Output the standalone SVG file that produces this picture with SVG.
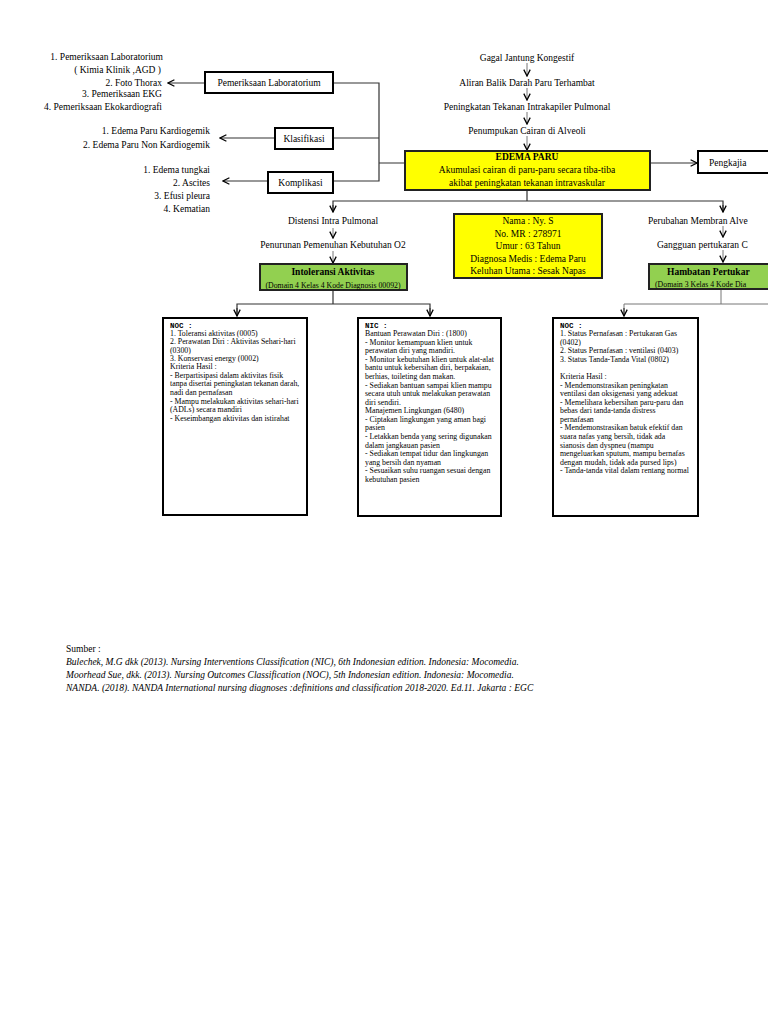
<svg xmlns="http://www.w3.org/2000/svg" width="768" height="1024" viewBox="0 0 768 1024">
<style>
text{font-family:"Liberation Serif","Times New Roman",serif;fill:#000}
.t{font-size:9.5px}
.e{text-anchor:end}
.m{text-anchor:middle}
.s{font-size:7.8px}
.mono{font-family:"Liberation Mono","Courier New",monospace;font-size:7.5px;font-weight:bold}
.b{font-weight:bold}
.i{font-style:italic;font-size:9.5px}
.box{fill:#fff;stroke:#000;stroke-width:2}
.yel{fill:#ffff00;stroke:#222;stroke-width:2}
.grn{fill:#92d050;stroke:#222;stroke-width:2}
.ln{fill:none;stroke:#333;stroke-width:1.2}
.lt{fill:none;stroke:#777;stroke-width:1}
</style>
<defs>
<marker id="arr" viewBox="0 0 10 10" refX="9" refY="5" markerWidth="8" markerHeight="8" markerUnits="userSpaceOnUse" orient="auto">
<path d="M1,1 L9,5 L1,9" fill="none" stroke="#000" stroke-width="1.6"/>
</marker>
</defs>
<rect width="768" height="1024" fill="#fff"/>

<g id="connectors">
<line class="lt" x1="527" y1="63" x2="527" y2="76" marker-end="url(#arr)"/>
<line class="lt" x1="527" y1="88" x2="527" y2="100" marker-end="url(#arr)"/>
<line class="lt" x1="527" y1="112" x2="527" y2="124" marker-end="url(#arr)"/>
<line class="lt" x1="527" y1="136" x2="527" y2="150" marker-end="url(#arr)"/>
<line class="ln" x1="650" y1="163" x2="697" y2="163" marker-end="url(#arr)"/>
<path class="ln" d="M405,163 H379 M333,83 H379 V181 H333 M333,138 H379"/>
<line class="ln" x1="205" y1="83" x2="168" y2="83" marker-end="url(#arr)"/>
<line class="ln" x1="275" y1="138" x2="220" y2="138" marker-end="url(#arr)"/>
<line class="ln" x1="268" y1="181" x2="223" y2="181" marker-end="url(#arr)"/>
<path class="ln" d="M527,190 V201 M333,212 V201 H723 V212"/>
<line class="ln" x1="333" y1="205" x2="333" y2="212" marker-end="url(#arr)"/>
<line class="ln" x1="723" y1="205" x2="723" y2="212" marker-end="url(#arr)"/>
<line class="lt" x1="333" y1="228" x2="333" y2="238" marker-end="url(#arr)"/>
<line class="lt" x1="333" y1="251" x2="333" y2="263" marker-end="url(#arr)"/>
<line class="lt" x1="723" y1="226" x2="723" y2="237" marker-end="url(#arr)"/>
<line class="lt" x1="723" y1="250" x2="723" y2="262" marker-end="url(#arr)"/>
<path class="ln" d="M333,290 V304 M237,316 V304 H430 V316"/>
<line class="ln" x1="237" y1="308" x2="237" y2="316" marker-end="url(#arr)"/>
<line class="ln" x1="430" y1="308" x2="430" y2="316" marker-end="url(#arr)"/>
<path class="lt" d="M721,289 V304 M624,316 V304 H768"/>
<line class="ln" x1="624" y1="308" x2="624" y2="316" marker-end="url(#arr)"/>
</g>

<g id="pemeriksaan-list">
<text class="t e" x="163" y="60">1. Pemeriksaan Laboratorium</text>
<text class="t e" x="161" y="73">( Kimia Klinik ,AGD )</text>
<text class="t e" x="162" y="86">2. Foto Thorax</text>
<text class="t e" x="162" y="97">3. Pemeriksaan EKG</text>
<text class="t e" x="162" y="110">4. Pemeriksaan Ekokardiografi</text>
</g>
<g id="pemeriksaan">
<rect class="box" x="205" y="72" width="128" height="21"/>
<text class="t m" x="269" y="86">Pemeriksaan Laboratorium</text>
</g>
<g id="klasifikasi-list">
<text class="t e" x="210" y="134">1. Edema Paru Kardiogemik</text>
<text class="t e" x="210" y="148">2. Edema Paru Non Kardiogemik</text>
</g>
<g id="klasifikasi">
<rect class="box" x="275" y="128" width="58" height="21"/>
<text class="t m" x="304" y="141.5">Klasifikasi</text>
</g>
<g id="komplikasi-list">
<text class="t e" x="210" y="172.5">1. Edema tungkai</text>
<text class="t e" x="210" y="186">2. Ascites</text>
<text class="t e" x="210" y="198.5">3. Efusi pleura</text>
<text class="t e" x="210" y="211.5">4. Kematian</text>
</g>
<g id="komplikasi">
<rect class="box" x="268" y="172" width="65" height="21"/>
<text class="t m" x="300.5" y="185.5">Komplikasi</text>
</g>

<g id="chain">
<text class="t m" x="527" y="60.5">Gagal Jantung Kongestif</text>
<text class="t m" x="527" y="86">Aliran Balik Darah Paru Terhambat</text>
<text class="t m" x="527" y="110">Peningkatan Tekanan Intrakapiler Pulmonal</text>
<text class="t m" x="527" y="134">Penumpukan Cairan di Alveoli</text>
</g>

<g id="edema-paru">
<rect class="yel" x="405" y="151" width="245" height="39"/>
<text class="t m b" x="527" y="160">EDEMA PARU</text>
<text class="t m" x="527" y="173">Akumulasi cairan di paru-paru secara tiba-tiba</text>
<text class="t m" x="527" y="186">akibat peningkatan tekanan intravaskular</text>
</g>

<g id="pengkajian">
<rect class="box" x="698" y="151" width="90" height="22"/>
<text class="t" x="709" y="166">Pengkajia</text>
</g>

<g id="left-branch">
<text class="t m" x="333" y="224">Distensi Intra Pulmonal</text>
<text class="t m" x="333" y="248">Penurunan Pemenuhan Kebutuhan O2</text>
</g>

<g id="intoleransi">
<rect class="grn" x="260" y="264" width="147" height="26"/>
<text class="m b" style="font-size:9.5px" x="333" y="275">Intoleransi Aktivitas</text>
<text class="m" style="font-size:7.8px" x="333" y="287.5">(Domain 4 Kelas 4 Kode Diagnosis 00092)</text>
</g>

<g id="identitas">
<rect class="yel" x="454" y="214" width="148" height="64"/>
<text class="t m" x="528" y="224">Nama : Ny. S</text>
<text class="t m" x="528" y="236.5">No. MR : 278971</text>
<text class="t m" x="528" y="249">Umur : 63 Tahun</text>
<text class="t m" x="528" y="261.5">Diagnosa Medis : Edema Paru</text>
<text class="t m" x="528" y="274">Keluhan Utama : Sesak Napas</text>
</g>

<g id="right-branch">
<text class="t" x="648" y="223.5">Perubahan Membran Alve</text>
<text class="t" x="657" y="247.5">Gangguan pertukaran C</text>
</g>

<g id="hambatan">
<rect class="grn" x="649" y="264" width="140" height="25"/>
<text class="b" style="font-size:9.5px" x="667" y="275">Hambatan Pertukar</text>
<text style="font-size:7.8px" x="655" y="287">(Domain 3 Kelas 4 Kode Dia</text>
</g>

<g id="noc-intoleransi">
<rect class="box" x="163" y="318" width="144" height="197"/>
<text class="mono" x="170" y="327.5">NOC :</text>
<text class="s" x="170" y="336">1. Toleransi aktivitas (0005)</text>
<text class="s" x="170" y="344">2. Perawatan Diri : Aktivitas Sehari-hari</text>
<text class="s" x="170" y="352.5">(0300)</text>
<text class="s" x="170" y="361">3. Konservasi energy (0002)</text>
<text class="s" x="170" y="369">Kriteria Hasil :</text>
<text class="s" x="170" y="377.5">- Berpartisipasi dalam aktivitas fisik</text>
<text class="s" x="170" y="386">tanpa disertai peningkatan tekanan darah,</text>
<text class="s" x="170" y="394.5">nadi dan pernafasan</text>
<text class="s" x="170" y="403.5">- Mampu melakukan aktivitas sehari-hari</text>
<text class="s" x="170" y="412">(ADLs) secara mandiri</text>
<text class="s" x="170" y="420.5">- Keseimbangan aktivitas dan istirahat</text>
</g>

<g id="nic-intoleransi">
<rect class="box" x="358" y="318" width="143" height="198"/>
<text class="mono" x="365" y="327.5">NIC :</text>
<text class="s" x="365" y="336">Bantuan Perawatan Diri : (1800)</text>
<text class="s" x="365" y="344.5">- Monitor kemampuan klien untuk</text>
<text class="s" x="365" y="353">perawatan diri yang mandiri.</text>
<text class="s" x="365" y="361.5">- Monitor kebutuhan klien untuk alat-alat</text>
<text class="s" x="365" y="370">bantu untuk kebersihan diri, berpakaian,</text>
<text class="s" x="365" y="378.5">berhias, toileting dan makan.</text>
<text class="s" x="365" y="387.5">- Sediakan bantuan sampai klien mampu</text>
<text class="s" x="365" y="396">secara utuh untuk melakukan perawatan</text>
<text class="s" x="365" y="404.5">diri sendiri.</text>
<text class="s" x="365" y="413">Manajemen Lingkungan (6480)</text>
<text class="s" x="365" y="421.5">- Ciptakan lingkungan yang aman bagi</text>
<text class="s" x="365" y="430">pasien</text>
<text class="s" x="365" y="438.5">- Letakkan benda yang sering digunakan</text>
<text class="s" x="365" y="447.5">dalam jangkauan pasien</text>
<text class="s" x="365" y="456">- Sediakan tempat tidur dan lingkungan</text>
<text class="s" x="365" y="464.5">yang bersih dan nyaman</text>
<text class="s" x="365" y="473">- Sesuaikan suhu ruangan sesuai dengan</text>
<text class="s" x="365" y="481.5">kebutuhan pasien</text>
</g>

<g id="noc-hambatan">
<rect class="box" x="553" y="318" width="145" height="198"/>
<text class="mono" x="560" y="327.5">NOC :</text>
<text class="s" x="560" y="336">1. Status Pernafasan : Pertukaran Gas</text>
<text class="s" x="560" y="344.5">(0402)</text>
<text class="s" x="560" y="353">2. Status Pernafasan : ventilasi (0403)</text>
<text class="s" x="560" y="361.5">3. Status Tanda-Tanda Vital (0802)</text>
<text class="s" x="560" y="378.5">Kriteria Hasil :</text>
<text class="s" x="560" y="387.5">- Mendemonstrasikan peningkatan</text>
<text class="s" x="560" y="396">ventilasi dan oksigenasi yang adekuat</text>
<text class="s" x="560" y="404.5">- Memelihara kebersihan paru-paru dan</text>
<text class="s" x="560" y="413">bebas dari tanda-tanda distress</text>
<text class="s" x="560" y="421.5">pernafasan</text>
<text class="s" x="560" y="430">- Mendemonstrasikan batuk efektif dan</text>
<text class="s" x="560" y="438.5">suara nafas yang bersih, tidak ada</text>
<text class="s" x="560" y="447.5">sianosis dan dyspneu (mampu</text>
<text class="s" x="560" y="456">mengeluarkan sputum, mampu bernafas</text>
<text class="s" x="560" y="464.5">dengan mudah, tidak ada pursed lips)</text>
<text class="s" x="560" y="473">- Tanda-tanda vital dalam rentang normal</text>
</g>

<g id="sumber">
<text class="t" x="66" y="652">Sumber :</text>
<text class="i" x="66" y="665">Bulechek, M.G dkk (2013). Nursing Interventions Classification (NIC), 6th Indonesian edition. Indonesia: Mocomedia.</text>
<text class="i" x="66" y="678">Moorhead Sue, dkk. (2013). Nursing Outcomes Classification (NOC), 5th Indonesian edition. Indonesia: Mocomedia.</text>
<text class="i" x="66" y="691">NANDA. (2018). NANDA International nursing diagnoses :definitions and classification 2018-2020. Ed.11. Jakarta : EGC</text>
</g>
</svg>
